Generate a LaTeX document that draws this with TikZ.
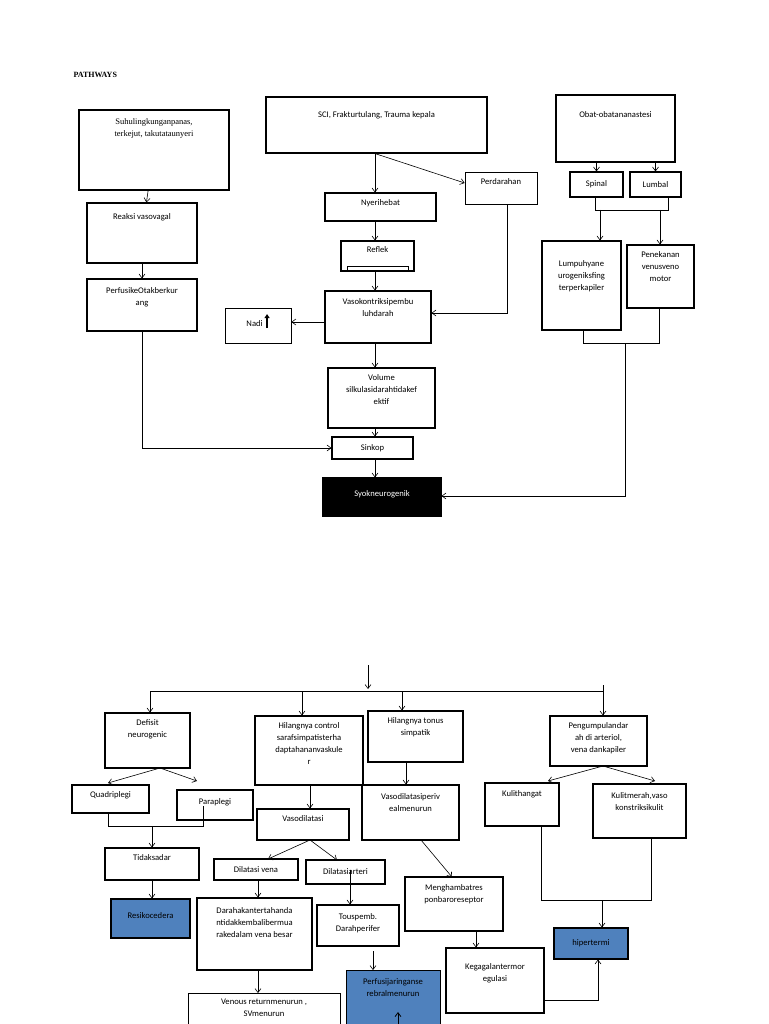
\documentclass[tikz,border=0pt]{standalone}
\usepackage{fontspec}
\setmainfont{Carlito}
\newfontfamily\serifx{Liberation Serif}
\usetikzlibrary{arrows.meta}
\tikzset{
 box/.style={draw,line width=1.1pt,inner sep=0pt},
 blue box/.style={box,fill={rgb,255:red,79;green,129;blue,189}},
 txt/.style={align=center,inner sep=0pt,anchor=north,font=\fontsize{8.6}{12}\selectfont},
 conn/.style={line width=0.6pt},
 arr/.style={conn,-{Straight Barb[length=4pt,width=6pt]}}
}
\newcommand\bx[8][]{\node[box,#1,minimum width={(#5-#3)*1pt},minimum height={(#6-#4)*1pt}] (#7) at ({(#3+#5)/2},{(#4+#6)/2}) {};
\node[txt,#1,draw=none,fill=none] (#7-t) at ({(#3+#5)/2},{#4+#2}) {#8};}
\newcommand\sbx[7][]{\node[box,#1,minimum width={(#4-#2)*1pt},minimum height={(#5-#3)*1pt},align=center,font=\fontsize{8.6}{12}\selectfont] (#6) at ({(#2+#4)/2},{(#3+#5)/2}) {#7};}
\begin{document}
\begin{tikzpicture}[x=1pt,y=-1pt]
\useasboundingbox (0,0) rectangle (768,1024);
\node[anchor=west,font=\serifx\bfseries\fontsize{8}{9}\selectfont] (title) at (70,75) {PATHWAYS};
% top part
\bx[font=\serifx\fontsize{8.5}{12}\selectfont]{8}{79}{110}{229}{190}{suhu}{Suhulingkunganpanas,\\terkejut, takutataunyeri}
\bx{14}{266}{97}{487}{153}{sci}{SCI, Frakturtulang, Trauma kepala}
\bx{16}{556}{95}{675}{162}{obat}{Obat-obatananastesi}
\bx[line width=0.7pt]{6}{465}{172}{537}{204}{perd}{Perdarahan}
\sbx{570}{172}{623}{197}{spinal}{Spinal}
\sbx{630}{172}{681}{197}{lumbal}{Lumbal}
\bx{6}{325}{193}{436}{221}{nyeri}{Nyerihebat}
\bx{10}{87}{203}{197}{263}{reaksi}{Reaksi vasovagal}
\bx{5}{341}{241}{414}{271}{reflek}{Reflek}
\draw[line width=0.5pt] (347,270) -- (347,266) -- (408,266) -- (408,270);
\bx{8}{87}{279}{197}{331}{perfusi}{PerfusikeOtakberkur\\ang}
\bx{19}{542}{241}{621}{330}{lumpuh}{Lumpuhyane\\urogeniksfing\\terperkapiler}
\bx{6}{627}{245}{694}{308}{penek}{Penekanan\\venusveno\\motor}
\bx[line width=0.7pt]{5}{225}{308}{291}{343}{nadi}{Nadi \tikz[baseline=0pt]\draw[line width=1.4pt,-{Triangle[length=4pt,width=5pt]}](0,2)--(0,-12);}
\bx{7}{325}{291}{431}{343}{vaso}{Vasokontriksipembu\\luhdarah}
\bx{6}{328}{368}{435}{428}{volume}{Volume\\silkulasidarahtidakef\\ektif}
\sbx{332}{437}{413}{459}{sinkop}{Sinkop}
\bx[fill=black,text=white]{12}{323}{478}{441}{516}{syok}{Syokneurogenik}
\draw[arr] (suhu) -- (reaksi);
\draw[arr] (reaksi) -- (perfusi);
\draw[arr] (sci.south -| 375,0) -- (nyeri.north -| 375,0);
\draw[arr] (sci.south -| 375,0) -- (perd.west |- 0,183);
\draw[arr] (nyeri.south -| 375,0) -- (reflek.north -| 375,0);
\draw[arr] (reflek.south -| 375,0) -- (vaso.north -| 375,0);
\draw[arr] (vaso.south -| 375,0) -- (volume.north -| 375,0);
\draw[arr] (volume.south -| 375,0) -- (sinkop.north -| 375,0);
\draw[arr] (sinkop.south -| 375,0) -- (syok.north -| 375,0);
\draw[arr] (vaso.west |- 0,322) -- (nadi.east |- 0,322);
\coordinate (pd) at (507,313);
\draw[arr] (perd.south -| pd) -- (pd) -- (vaso.east |- pd);
\draw[arr] (perfusi.south) -- (perfusi.south |- sinkop.west) -- (sinkop.west);
\draw[arr] (obat.south -| spinal) -- (spinal);
\draw[arr] (obat.south -| lumbal) -- (lumbal);
\coordinate (sj) at (595,210);
\draw[conn] (spinal.south -| sj) -- (sj) -- (668,210) -- (lumbal.south -| 668,0);
\draw[arr] (600,210) -- (lumpuh.north -| 600,0);
\draw[arr] (660,210) -- (penek.north -| 660,0);
\coordinate (lj) at (583,343);
\draw[conn] (lumpuh.south -| lj) -- (lj) -- (659,343) -- (penek.south -| 659,0);
\draw[arr] (625,343) -- (625,496) -- (syok.east |- 0,496);
% bottom part
\coordinate (t0) at (368,665);
\coordinate (t1) at (368,689);
\draw[arr] (t0) -- (t1);
\bx{6}{105}{713}{190}{768}{defisit}{Defisit\\neurogenic}
\bx{6}{255}{716}{363}{785}{hilc}{Hilangnya control\\sarafsimpatisterha\\daptahananvaskule\\r}
\bx{6}{368}{711}{463}{762}{hilt}{Hilangnya tonus\\simpatik}
\bx{6}{550}{716}{647}{766}{peng}{Pengumpulandar\\ah di arteriol,\\vena dankapiler}
\bx{6}{72}{785}{149}{813}{quad}{Quadriplegi}
\bx{8}{177}{790}{253}{820}{para}{Paraplegi}
\bx{6}{257}{809}{349}{840}{vdil}{Vasodilatasi}
\bx{8}{362}{785}{459}{840}{vperiv}{Vasodilatasiperiv\\ealmenurun}
\bx{7}{485}{783}{559}{826}{kulh}{Kulithangat}
\bx{8}{593}{784}{686}{838}{kulm}{Kulitmerah,vaso\\konstriksikulit}
\bx{6}{105}{848}{199}{880}{tidak}{Tidaksadar}
\sbx{214}{859}{298}{880}{dven}{Dilatasi vena}
\sbx{306}{860}{385}{884}{dart}{Dilatasiarteri}
\bx{7}{405}{877}{503}{931}{meng}{Menghambatres\\ponbaroreseptor}
\bx[blue box]{13}{111}{899}{190}{938}{resiko}{Resikocedera}
\bx{9}{197}{898}{312}{970}{darah}{Darahakantertahanda\\ntidakkembalibermua\\rakedalam vena besar}
\bx{8}{317}{905}{399}{946}{tous}{Touspemb.\\Darahperifer}
\sbx[blue box]{554}{928}{628}{959}{hiper}{hipertermi}
\bx{15}{446}{948}{544}{1013}{kegag}{Kegagalantermor\\egulasi}
\begin{scope}
\clip (0,0) rectangle (768,1024);
\node[blue box,minimum width=94pt,minimum height=64pt,anchor=north west] (perfj) at (346,970) {};
\node[txt] (perfj-t) at (393,978) {Perfusijaringanse\\rebralmenurun};
\node[box,minimum width=152pt,minimum height=50pt,anchor=north west] (venous) at (188,993) {};
\node[txt] (venous-t) at (264,999) {Venous returnmenurun ,\\SVmenurun};
\draw[arr,line width=0.8pt] (398,1028) -- (398,1012);
\end{scope}
\draw[conn] (150,691) -- (603,691);
\draw[arr] (150,691) -- (defisit.north -| 150,0);
\draw[arr] (302,691) -- (hilc.north -| 302,0);
\draw[arr] (402,691) -- (hilt.north -| 402,0);
\draw[conn] (603,685) -- (603,691);
\draw[arr] (603,691) -- (peng.north -| 603,0);
\coordinate (dsplit) at (160,768);
\draw[arr] (dsplit) -- (108,783);
\draw[arr] (dsplit) -- (197,781);
\draw[conn] (quad.south -| 108,0) -- (108,826) -- (203,826) -- (203,806);
\draw[arr] (152,826) -- (tidak.north -| 152,0);
\draw[arr] (tidak.south -| 152,0) -- (resiko.north -| 152,0);
\draw[arr] (hilc.south -| 310,0) -- (vdil.north -| 310,0);
\coordinate (vsplit) at (310,840);
\draw[arr] (vsplit) -- (268,859);
\draw[arr] (vsplit) -- (337,860);
\draw[arr] (dven.south -| 258,0) -- (darah.north -| 258,0);
\draw[arr] (350,870) -- (tous.north -| 350,0);
\draw[arr] (373,951) -- (perfj.north -| 373,0);
\draw[arr] (darah.south -| 258,0) -- (venous.north -| 258,0);
\draw[arr] (hilt.south -| 406,0) -- (vperiv.north -| 406,0);
\draw[arr] (421,840) -- (452,877);
\draw[arr] (meng.south -| 476,0) -- (kegag.north -| 476,0);
\coordinate (psplit) at (603,766);
\draw[arr] (psplit) -- (548,781);
\draw[arr] (psplit) -- (655,781);
\draw[conn] (kulh.south -| 541,0) -- (541,900) -- (651,900) -- (kulm.south -| 651,0);
\draw[arr] (602,900) -- (hiper.north -| 602,0);
\draw[arr] (kegag.east |- 0,1000) -- (598,1000) -- (hiper.south -| 598,0);
\end{tikzpicture}
\end{document}
